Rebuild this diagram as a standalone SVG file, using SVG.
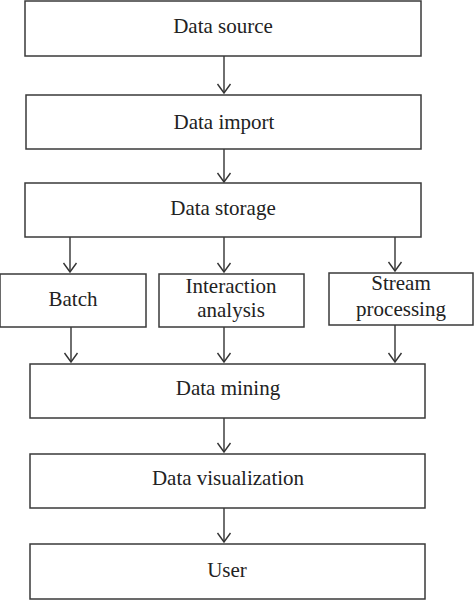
<svg xmlns="http://www.w3.org/2000/svg" width="474" height="601" viewBox="0 0 474 601">
<style>
.box{fill:#fff;stroke:#3a3a3a;stroke-width:1.5}
.lbl{font-family:"Liberation Serif","Times New Roman",serif;font-size:21px;fill:#222;text-anchor:middle}
.con{stroke:#333;stroke-width:1.4;fill:none}
</style>
<defs>
<marker id="ah" markerUnits="userSpaceOnUse" markerWidth="20" markerHeight="20" viewBox="-10 -10 20 20" refX="0" refY="0" orient="auto">
<path d="M-9,-6.5 L0,0 L-9,6.5" fill="none" stroke="#333" stroke-width="1.4"/>
</marker>
</defs>
<rect width="474" height="601" fill="#fff"/>
<g id="connectors">
<line class="con" x1="224" y1="56" x2="224" y2="93" marker-end="url(#ah)"/>
<line class="con" x1="224" y1="149" x2="224" y2="182" marker-end="url(#ah)"/>
<line class="con" x1="70" y1="237" x2="70" y2="272" marker-end="url(#ah)"/>
<line class="con" x1="224" y1="237" x2="224" y2="272" marker-end="url(#ah)"/>
<line class="con" x1="395" y1="237" x2="395" y2="271" marker-end="url(#ah)"/>
<line class="con" x1="71" y1="327" x2="71" y2="362" marker-end="url(#ah)"/>
<line class="con" x1="224" y1="327" x2="224" y2="362" marker-end="url(#ah)"/>
<line class="con" x1="395" y1="325" x2="395" y2="362" marker-end="url(#ah)"/>
<line class="con" x1="224" y1="418" x2="224" y2="452" marker-end="url(#ah)"/>
<line class="con" x1="224" y1="508" x2="224" y2="542" marker-end="url(#ah)"/>
</g>
<g id="data-source"><rect class="box" x="25" y="1" width="396" height="55"/><text class="lbl" x="223" y="33">Data source</text></g>
<g id="data-import"><rect class="box" x="26" y="95" width="395" height="54"/><text class="lbl" x="224" y="129">Data import</text></g>
<g id="data-storage"><rect class="box" x="25" y="183" width="396" height="54"/><text class="lbl" x="223" y="215">Data storage</text></g>
<g id="batch"><rect class="box" x="0" y="274" width="146" height="53"/><text class="lbl" x="73" y="306">Batch</text></g>
<g id="interaction-analysis"><rect class="box" x="159" y="274" width="145" height="53"/><text class="lbl" x="231" y="293">Interaction</text><text class="lbl" x="231" y="317">analysis</text></g>
<g id="stream-processing"><rect class="box" x="329" y="273" width="144" height="52"/><text class="lbl" x="401" y="290">Stream</text><text class="lbl" x="401" y="316">processing</text></g>
<g id="data-mining"><rect class="box" x="30" y="364" width="395" height="54"/><text class="lbl" x="228" y="395">Data mining</text></g>
<g id="data-visualization"><rect class="box" x="30" y="454" width="395" height="54"/><text class="lbl" x="228" y="485">Data visualization</text></g>
<g id="user"><rect class="box" x="30" y="544" width="395" height="55"/><text class="lbl" x="227" y="577">User</text></g>
</svg>
